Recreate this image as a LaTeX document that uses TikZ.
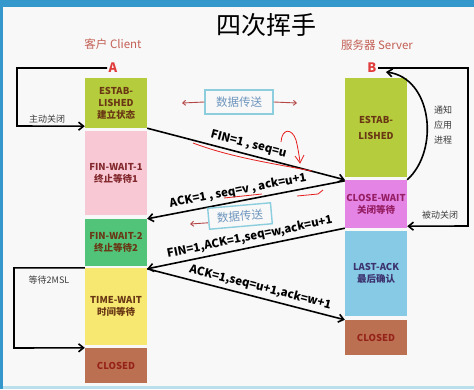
\documentclass[tikz,border=0pt]{standalone}
\usepackage{fontspec}
\setmainfont{Noto Sans CJK SC}
\usetikzlibrary{arrows.meta,calc}
\definecolor{frameblue}{RGB}{52,152,205}
\definecolor{bgwhite}{RGB}{248,248,248}
\definecolor{estab}{RGB}{181,204,60}
\definecolor{fw1}{RGB}{248,200,212}
\definecolor{fw2}{RGB}{82,196,122}
\definecolor{tw}{RGB}{246,232,112}
\definecolor{closed}{RGB}{188,112,82}
\definecolor{cw}{RGB}{228,132,228}
\definecolor{la}{RGB}{134,202,230}
\definecolor{txbrown}{RGB}{105,55,20}
\definecolor{txred}{RGB}{130,40,45}
\definecolor{txmag}{RGB}{150,30,100}
\definecolor{txnavy}{RGB}{60,50,110}
\definecolor{txclosed}{RGB}{150,35,25}
\definecolor{hdr}{RGB}{195,95,85}
\definecolor{abred}{RGB}{225,60,60}
\definecolor{databox}{RGB}{140,205,222}
\definecolor{datatext}{RGB}{110,150,190}
\definecolor{redarr}{RGB}{180,70,70}
\definecolor{scrib}{RGB}{230,30,30}
\definecolor{graytx}{RGB}{60,60,60}
\begin{document}
\begin{tikzpicture}[x=1pt,y=-1pt,
  statebox/.style={minimum width=62pt,inner sep=0pt,align=center,
    font=\fontsize{9.5}{12}\selectfont\bfseries},
  arr/.style={line width=1.6pt,-{Straight Barb[length=5pt,width=8pt]}},
  rarr/.style={line width=1.6pt,{Straight Barb[length=5pt,width=8pt]}-},
  msg/.style={font=\fontsize{11.5}{13}\selectfont\bfseries,sloped,above,
    inner xsep=0pt,inner ysep=3.5pt},
  note/.style={font=\fontsize{9}{11}\selectfont,text=graytx},
  datab/.style={draw=databox,line width=1.4pt,fill=bgwhite,minimum width=68pt,
    minimum height=24pt,inner sep=0pt,font=\fontsize{11.5}{13}\selectfont,text=datatext},
  darr/.style={draw=redarr,line width=0.9pt,-{Straight Barb[length=3pt,width=5pt]}},
  scribble/.style={draw=scrib,line width=0.8pt}]
\useasboundingbox (0,0) rectangle (474,389);
\fill[frameblue] (0,0) rectangle (474,389);
\fill[bgwhite] (3,7) rectangle (474,386);
\fill[databox!60] (3,386) rectangle (474,389);

% titles
\node[font=\fontsize{25}{28}\selectfont] (title) at (266,25) {四次挥手};
\node[font=\fontsize{11.5}{13}\selectfont,text=hdr] (hc) at (113,44) {客户 Client};
\node[font=\fontsize{11.5}{13}\selectfont,text=hdr] (hs) at (377,45) {服务器 Server};
\node[font=\fontsize{13}{14}\selectfont\bfseries,text=abred,inner sep=1.5pt] (A) at (113,68) {A};
\node[font=\fontsize{13}{14}\selectfont\bfseries,text=abred,inner sep=1.5pt] (B) at (372,68) {B};

% client states
\node[statebox,fill=estab,minimum height=50pt,text=txbrown] (ce) at (116,103)
  {ESTAB-\\LISHED\\建立状态};
\node[statebox,fill=fw1,minimum height=84pt,text=txred] (cf1) at (116,173)
  {FIN-WAIT-1\\终止等待1};
\node[statebox,fill=fw2,minimum height=47pt,text=txbrown] (cf2) at (116,242.5)
  {FIN-WAIT-2\\终止等待2};
\node[statebox,fill=tw,minimum height=77pt,text=txbrown] (ctw) at (116,306.5)
  {TIME-WAIT\\时间等待};
\node[statebox,fill=closed,minimum height=35pt,text=txclosed] (ccl) at (116,365.5)
  {CLOSED};

% server states
\node[statebox,fill=estab,minimum height=99pt,text=txbrown] (se) at (376,127.5)
  {ESTAB-\\[4pt]LISHED};
\node[statebox,fill=cw,minimum height=48pt,text=txmag] (scw) at (376,204)
  {CLOSE-WAIT\\关闭等待};
\node[statebox,fill=la,minimum height=85pt,text=txnavy] (sla) at (376,273.5)
  {LAST-ACK\\最后确认};
\node[statebox,fill=closed,minimum height=35pt,text=txclosed] (scl) at (376,337.5)
  {CLOSED};

% side loops
\draw[arr] (A.west) -| (17,126) -- ([yshift=2pt]ce.south west);
\node[note] (zd) at (47,119) {主动关闭};
\draw[arr] (B.east) -| (468,226) -- ([yshift=2pt]scw.south east);
\node[note] (bd) at (440,215) {被动关闭};
\draw[arr] (ctw.north west) -| (14,348) -- (ccl.north west);
\node[note] (wm) at (49,280) {等待2MSL};
\draw[arr] (scw.north east) .. controls (440,150) and (432,78) .. (386,72);
\node[note,align=center] (tz) at (443,125) {通知\\[4pt]应用\\[4pt]进程};

% data transfer
\node[datab] (d1) at (239,102) {数据传送};
\coordinate (d1l) at (182,103);
\coordinate (d1r) at (297,103);
\draw[darr] (d1.west) -- (d1l);
\draw[darr] (d1.east) -- (d1r);

% messages
\draw[arr] (ce.south east) -- (scw.north west)
  node[msg,pos=0.5] {FIN=1 , seq=u};
\draw[rarr] (cf2.north east) -- ([yshift=-1pt]scw.north west)
  node[msg,pos=0.47] {ACK=1 , seq=v , ack=u+1};
\draw[rarr] ([yshift=-1pt]ctw.north east) -- (scw.south west)
  node[msg,pos=0.53] {FIN=1,ACK=1,seq=w,ack=u+1};
\draw[arr] ([yshift=-1pt]ctw.north east) -- (scl.north west)
  node[msg,pos=0.56] {ACK=1,seq=u+1,ack=w+1};

% second data box
\node[datab,rotate=5,minimum height=21pt,minimum width=63pt] (d2) at (240,216) {数据传送};
\coordinate (d2l) at (190,224);
\draw[darr] ([yshift=-4pt]d2.west) -- (d2l);

% red scribbles
\draw[scribble] (193,143) .. controls (230,157) and (270,163) .. (312,171);
\draw[scribble] (281,142) .. controls (282,128) and (292,128) .. (296,140)
  .. controls (298,148) and (299,155) .. (300,162);
\draw[scribble] (295,156) -- (300,163) -- (304,155);
\draw[scribble] (224,198) -- (262,194);
\draw[scribble] (297,196) -- (318,194) -- (323,190);
\end{tikzpicture}
\end{document}
